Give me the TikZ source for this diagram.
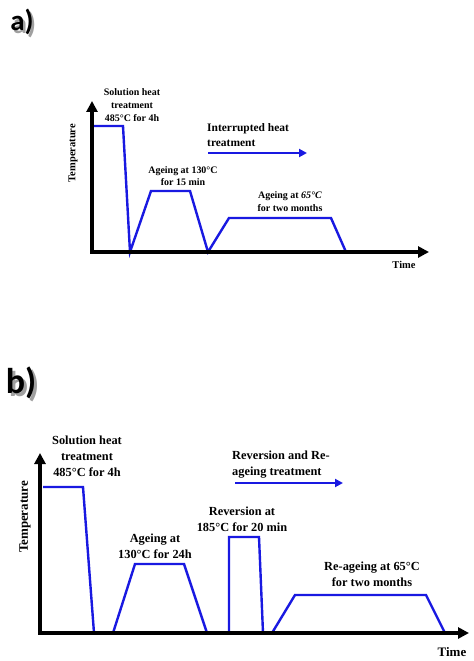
\documentclass[tikz,border=0pt]{standalone}
\usepackage{fontspec}
\setmainfont{Liberation Serif}
\newfontfamily\panelfont{Carlito}
\usetikzlibrary{arrows.meta}
\definecolor{curveblue}{RGB}{25,25,225}
\definecolor{shadowgray}{RGB}{160,160,160}
\begin{document}
\begin{tikzpicture}[x=1bp,y=-1bp,
  axis/.style={line width=3.2bp, line join=miter,
    arrows={Triangle[length=11bp,width=11bp]-Triangle[length=11bp,width=11bp]}},
  curve/.style={curveblue, line width=2.4bp, line join=miter},
  bluearrow/.style={curveblue, line width=2.2bp, -{Triangle[length=8bp,width=8bp]}},
  lbla/.style={font=\bfseries\fontsize{10}{13}\selectfont, align=center, inner sep=0pt},
  lblb/.style={font=\bfseries\fontsize{12.4}{16}\selectfont, align=center, inner sep=0pt},
  panel/.style={font=\panelfont\bfseries, inner sep=0pt},
]
\useasboundingbox[fill=white] (0,0) rectangle (474,661);

% ---------- panel a ----------
\node[panel, text=shadowgray, font=\panelfont\bfseries\fontsize{29}{29}\selectfont] (ashadow) at (24.5,24.5) {a)};
\node[panel, font=\panelfont\bfseries\fontsize{29}{29}\selectfont] (alabel) at (22,22) {a)};

\draw[curve] (93,126) -- (123,126) -- (130,252) -- (151,191) -- (190,191) -- (208,252)
  -- (229,218) -- (331,218) -- (346,252);

\coordinate (aytop) at (92,101);
\coordinate (ao) at (92,252);
\coordinate (axend) at (429,252);
\draw[axis] (aytop) -- (ao) -- (axend);

\node[lbla] (asol) at (132,105) {Solution heat\\treatment\\485°C for 4h};
\node[lbla, align=left, anchor=west, font=\bfseries\fontsize{11.5}{15}\selectfont] (aint) at (207,135.5) {Interrupted heat\\treatment};
\coordinate (aarrs) at (208,153);
\coordinate (aarre) at (307,153);
\draw[bluearrow] (aarrs) -- (aarre);
\node[lbla, font=\bfseries\fontsize{10}{12.5}\selectfont] (aage1) at (183,176) {Ageing at 130°C\\for 15 min};
\node[lbla] (aage2) at (290,201.5) {Ageing at \textit{65°C}\\for two months};
\node[lbla, font=\bfseries\fontsize{10.5}{12}\selectfont] (atime) at (404,265) {Time};
\node[lbla, font=\bfseries\fontsize{10.5}{12}\selectfont, rotate=90] (atemp) at (73,153) {Temperature};

% ---------- panel b ----------
\node[panel, text=shadowgray, font=\panelfont\bfseries\fontsize{36}{36}\selectfont] (bshadow) at (24,386) {b)};
\node[panel, font=\panelfont\bfseries\fontsize{36}{36}\selectfont] (blabel) at (21,383) {b)};

\draw[curve] (43,487) -- (83,487) -- (94,633);
\draw[curve] (113,633) -- (135,564) -- (184,564) -- (207,633);
\draw[curve] (229,633) -- (229,537) -- (259,537) -- (263,633);
\draw[curve] (272,633) -- (295,595) -- (426,595) -- (445,633);

\coordinate (bytop) at (40,453);
\coordinate (bo) at (40,633);
\coordinate (bxend) at (469,633);
\draw[axis] (bytop) -- (bo) -- (bxend);

\node[lblb] (bsol) at (87,456) {Solution heat\\treatment\\485°C for 4h};
\node[lblb, align=left, anchor=west] (brev) at (232,465) {Reversion and Re-\\ageing treatment};
\coordinate (barrs) at (235,483);
\coordinate (barre) at (343,483);
\draw[bluearrow] (barrs) -- (barre);
\node[lblb] (bage) at (155,546.5) {Ageing at\\130°C for 24h};
\node[lblb] (brevat) at (242,519) {Reversion at\\185°C for 20 min};
\node[lblb] (breage) at (372,574.5) {Re-ageing at 65°C\\for two months};
\node[lblb, font=\bfseries\fontsize{13}{14}\selectfont] (btime) at (452,652) {Time};
\node[lblb, font=\bfseries\fontsize{13}{14}\selectfont, rotate=90] (btemp) at (25,517) {Temperature};
\end{tikzpicture}
\end{document}
